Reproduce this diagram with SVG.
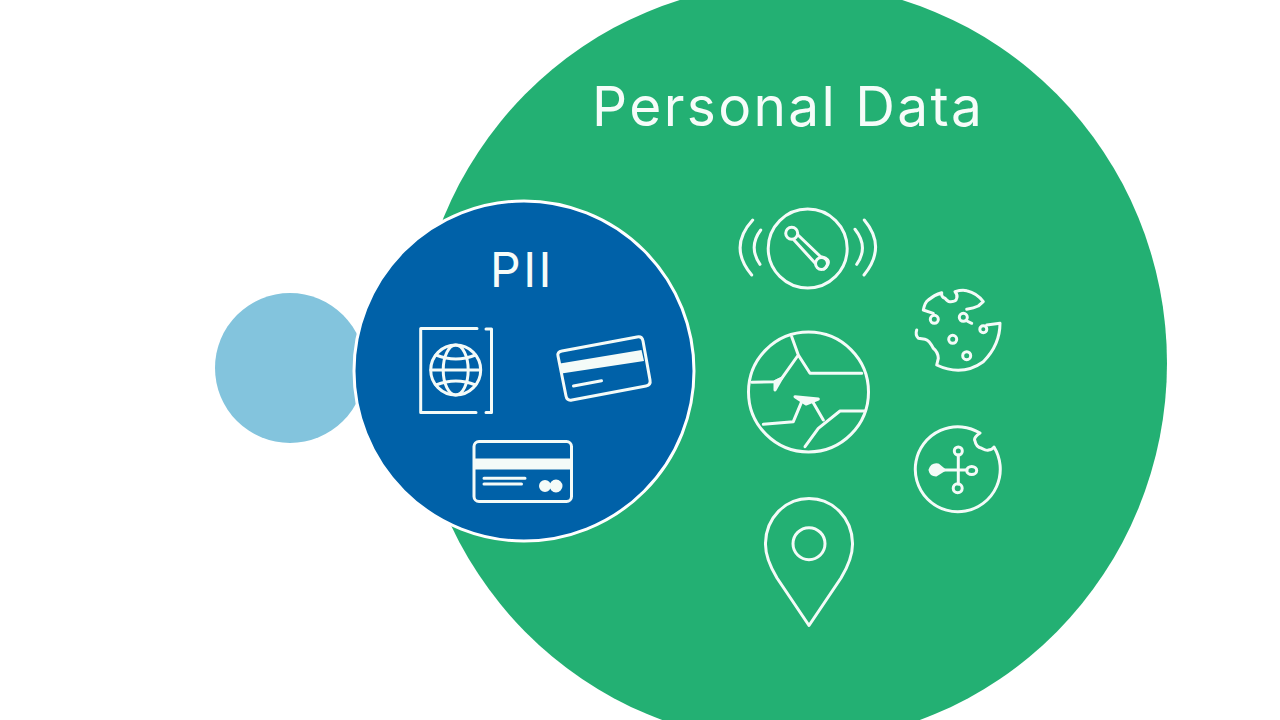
<svg xmlns="http://www.w3.org/2000/svg" width="1280" height="720" viewBox="0 0 1280 720">
<style>
.l{fill:none;stroke:#f4fbf8;stroke-width:3;stroke-linecap:round;stroke-linejoin:round}
.t{fill:#f6fcf9;font-family:"Inter","Open Sans",sans-serif;font-weight:400}
</style>
<rect width="1280" height="720" fill="#fff"/>
<g id="personal-data">
<ellipse cx="791" cy="363" rx="376" ry="380" fill="#23b073"/>
<text class="t" x="592" y="126" font-size="55" textLength="390" lengthAdjust="spacing">Personal Data</text>
</g>
<g id="outer"><circle cx="290" cy="368" r="75" fill="#83c4dd"/></g>
<g id="pii">
<circle cx="524" cy="371" r="170" fill="#0061a8" stroke="#fff" stroke-width="3"/>
<text class="t" x="490" y="287" font-size="48" letter-spacing="2.500">PII</text>
</g>
<g id="passport" class="l">
<path d="M477 328.500H420.700V412.500H476M486 329H491.500V412.500H486"/>
<circle cx="455.700" cy="370" r="25"/><ellipse cx="455.700" cy="370" rx="12.500" ry="25"/>
<path d="M431 370H480.500M436 355Q456 363 475.500 355M436 385Q456 377 475.500 385"/>
</g>
<g id="card-tilted" class="l">
<path d="M562 351L637 337Q642 336 643 341L650 380Q651 385 646 386L572 400Q567 401 566 396L558 356Q557 352 562 351Z"/>
<path d="M560 363.500L641.500 350L644 361L561.500 373.500Z" fill="#f4fbf8" stroke="none"/>
<path d="M573.500 386L601.500 380.700"/>
</g>
<g id="card" class="l">
<rect x="474" y="441.500" width="97.500" height="60" rx="5"/>
<rect x="475" y="458.500" width="96" height="11" fill="#f4fbf8" stroke="none"/>
<path d="M484 478.300H525M484 484H521.500"/>
<circle cx="545" cy="486" r="4.500" fill="#f4fbf8"/><circle cx="556" cy="486" r="5" fill="#f4fbf8"/>
</g>
<g id="signal" class="l">
<circle cx="807.700" cy="248.500" r="39.500"/>
<circle cx="791.700" cy="233.300" r="6"/><circle cx="821.500" cy="263.500" r="6"/>
<path d="M794 240L815 263M798 235L821 257M822 257Q830 259 828 264Q826 268 824 269"/>
<path d="M752.700 220Q728 247 751.700 275M760.700 230Q748 247 760 264.300M855 229.300Q869 247 856.700 264.300M864.300 220Q887 247 864 275"/>
</g>
<g id="cookie-dots" class="l">
<path d="M923.300 310Q925 302 928.300 300Q934 295 941.700 292.700Q941 297 945 298.300Q948 302 950 301.700Q956 302 956.700 298.300Q958 295 955 291.700Q962 289.500 966.700 290.700Q977 293 983.300 301.700L978.300 306Q974 308 966.700 309.300M923.300 310L933.300 313.300"/>
<path d="M1000 323.300Q1000 345 983.300 361.700Q962 377 936.700 365L938.300 358.300Q938 352 933.300 348.300Q929 340 925 339.300L918.300 338.300Q915 335 916.700 330M1000 323.300L986.700 325"/>
<circle cx="934.300" cy="319.300" r="4"/><circle cx="963.300" cy="317.300" r="4"/><circle cx="952.700" cy="339.300" r="4"/><circle cx="966.700" cy="355.700" r="4"/><circle cx="983.300" cy="329.300" r="3.500"/>
<path d="M966 320.500L971.700 323.300"/>
</g>
<g id="globe-cracked" class="l">
<circle cx="808.500" cy="392" r="60"/>
<path d="M791.700 336.700L798.300 355L810 373.300H861.700M798.300 355L781.700 378.300L775 381.700L751.700 382.300"/>
<path d="M781.700 378.300L775 390L775 381.700Z" fill="#f4fbf8"/>
<path d="M763.300 424.300L793.300 421.700L801.700 401.700L811.700 400L823.300 420"/>
<path d="M795 396.700L818.300 399L806 404Z" fill="#f4fbf8"/>
<path d="M805 446.700L818.300 428.300L840 411H865"/>
</g>
<g id="cookie-network" class="l">
<path d="M994 447A42.500 42.500 0 1 1 980 433Q973 438 975 441Q976 447 981.700 448.300Q987 451 988.300 450Q992 450 994 447Z"/>
<path d="M958.300 455V484M943 470H967"/>
<circle cx="958.300" cy="451" r="4"/><circle cx="957.700" cy="488.300" r="4.500"/><ellipse cx="971.700" cy="470.500" rx="5" ry="4"/>
<path d="M930 470Q932 464 938 465L944 470L936 475Q931 475 930 470Z" fill="#f4fbf8"/>
</g>
<g id="pin" class="l">
<path d="M809 625.500L777 578Q765 558 765.500 543C766 518 785 498.500 809 498.500C833 498.500 852 518 852.500 543Q853 558 841 578Z"/>
<circle cx="809" cy="543.700" r="16"/>
</g>
</svg>
